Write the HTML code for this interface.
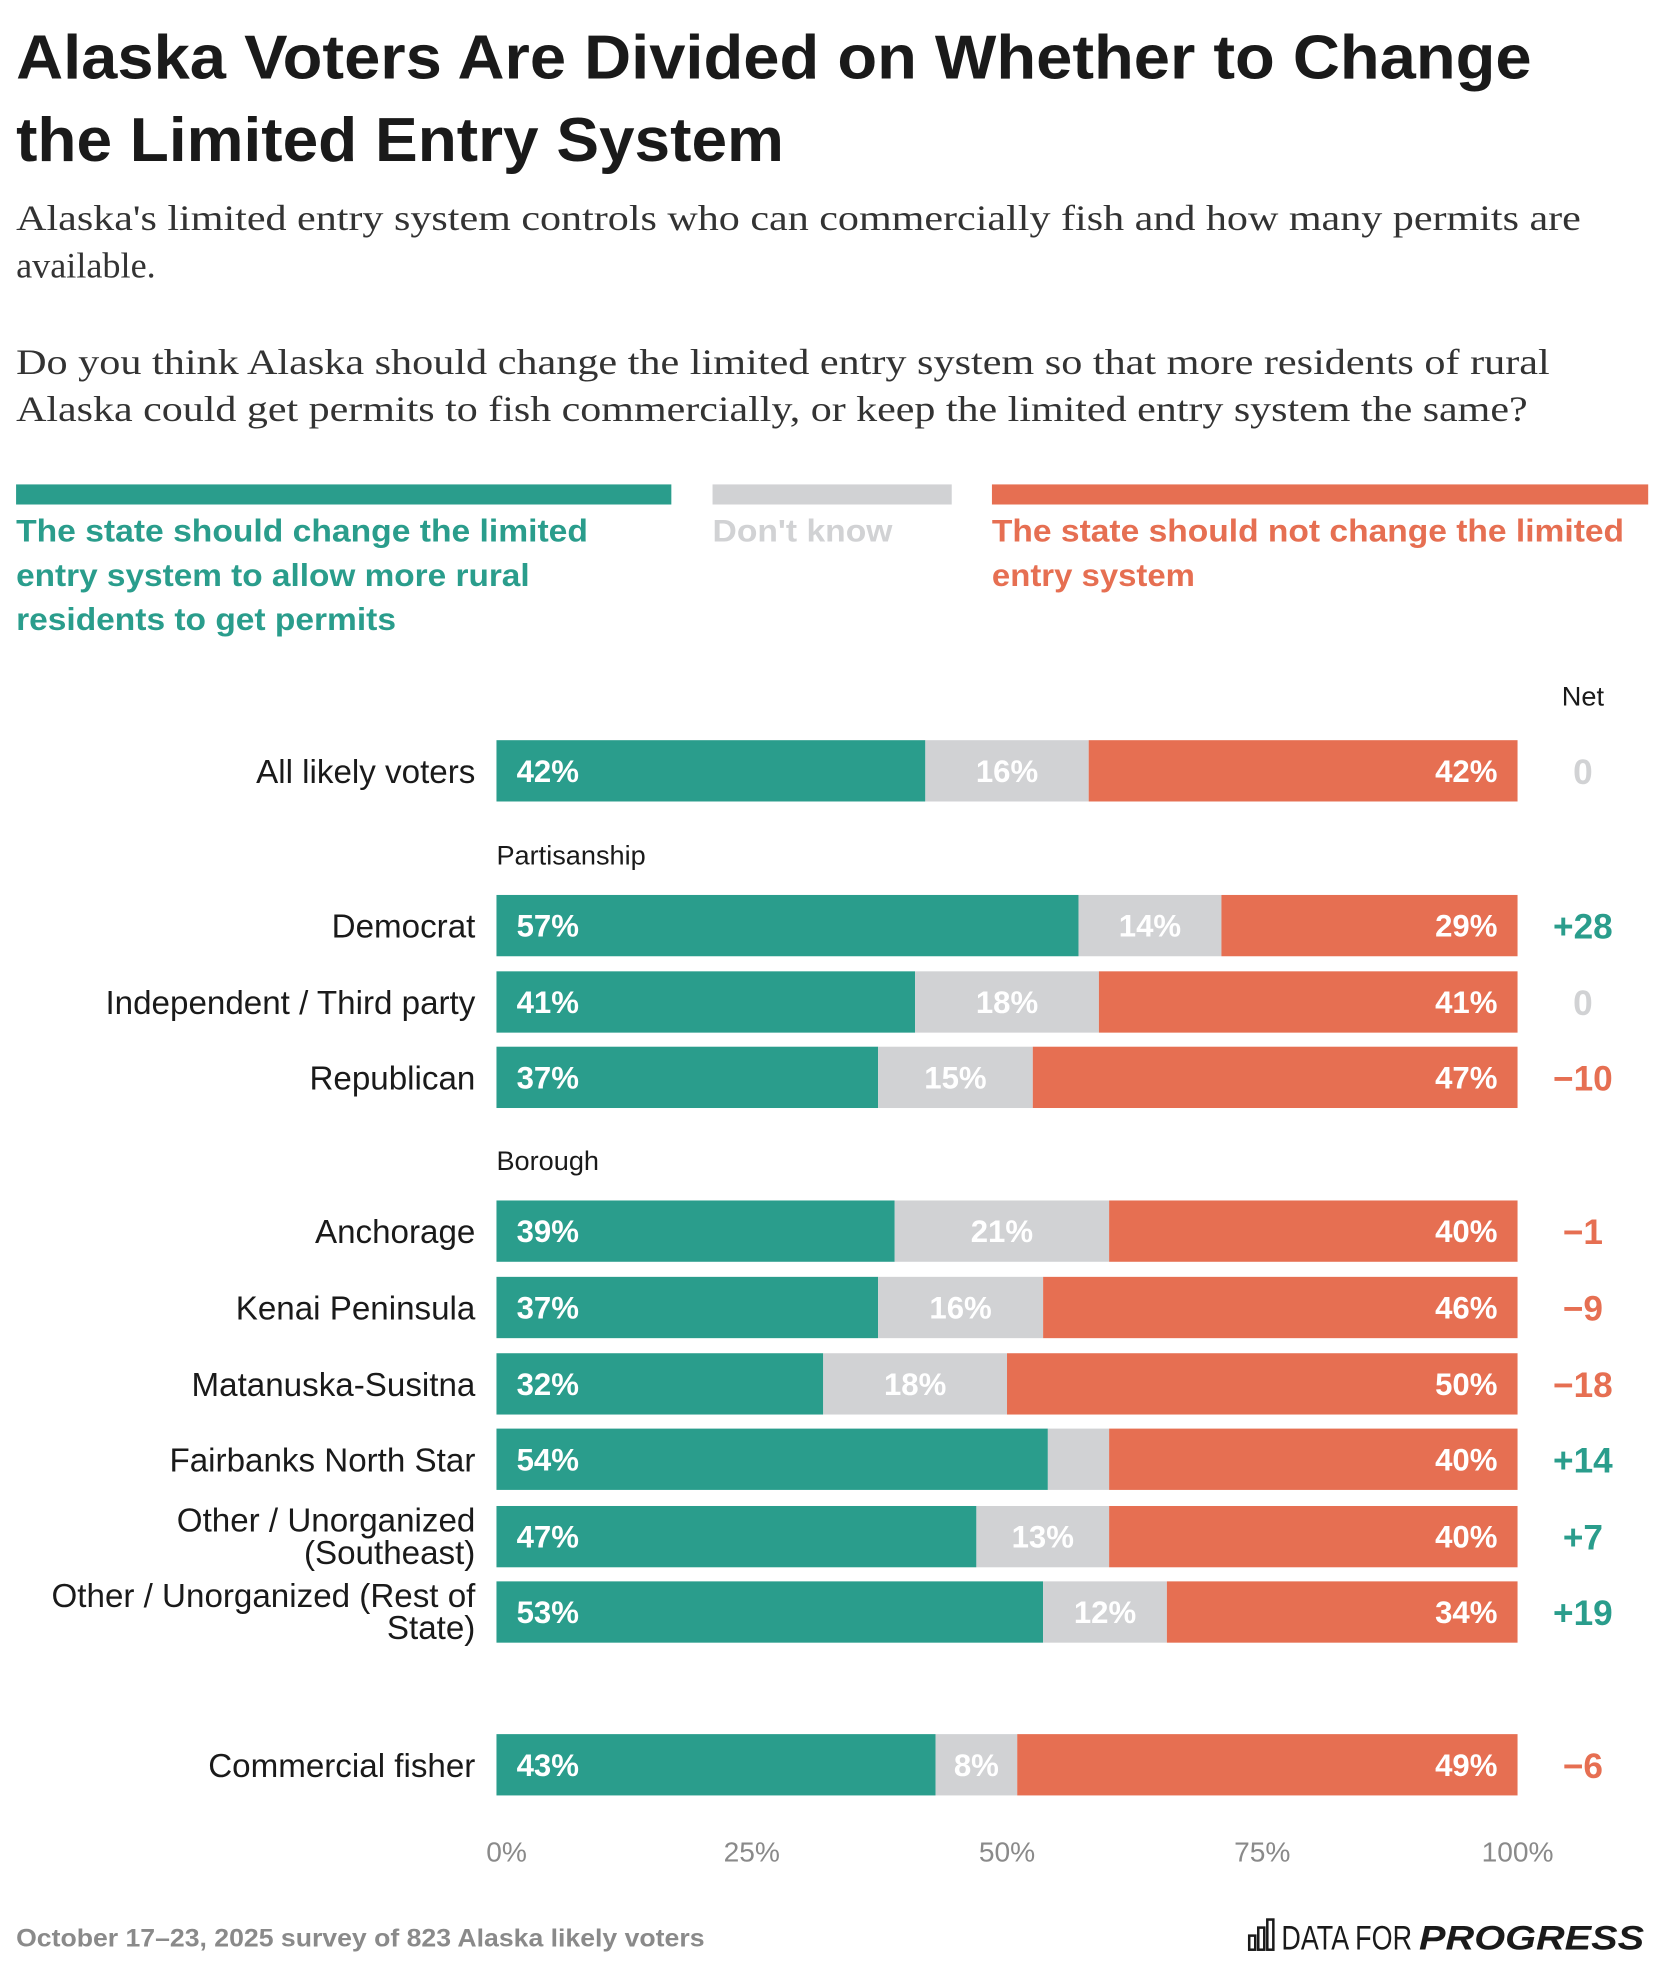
<!DOCTYPE html>
<html><head><meta charset="utf-8"><style>
body{margin:0;background:#fff}
svg{display:block}
text{font-family:"Liberation Sans",sans-serif}
.serif{font-family:"Liberation Serif",serif}
</style></head><body>
<svg id="chart" width="1664" height="1970" viewBox="0 0 1664 1970" xmlns="http://www.w3.org/2000/svg">
<g transform="scale(1.005)">
<g font-weight="bold" font-size="62" fill="#1a1a1a">
<text x="16" y="78" textLength="1508" lengthAdjust="spacingAndGlyphs">Alaska Voters Are Divided on Whether to Change</text>
<text x="16" y="160" textLength="764" lengthAdjust="spacingAndGlyphs">the Limited Entry System</text>
</g>
<g class="serif" font-size="36" fill="#333">
<text class="serif" x="16" y="229" textLength="1557" lengthAdjust="spacingAndGlyphs">Alaska's limited entry system controls who can commercially fish and how many permits are</text>
<text class="serif" x="16" y="276">available.</text>
<text class="serif" x="16" y="372" textLength="1526" lengthAdjust="spacingAndGlyphs">Do you think Alaska should change the limited entry system so that more residents of rural</text>
<text class="serif" x="16" y="419" textLength="1504" lengthAdjust="spacingAndGlyphs">Alaska could get permits to fish commercially, or keep the limited entry system the same?</text>
</g>
<g font-weight="bold" font-size="31">
<rect x="16" y="482" width="652" height="20" fill="#2a9d8c"/>
<rect x="709" y="482" width="238" height="20" fill="#d1d2d4"/>
<rect x="987" y="482" width="653" height="20" fill="#e66f52"/>
<g fill="#2a9d8c">
<text x="16" y="539" textLength="569" lengthAdjust="spacingAndGlyphs">The state should change the limited</text>
<text x="16" y="583" textLength="511" lengthAdjust="spacingAndGlyphs">entry system to allow more rural</text>
<text x="16" y="627" textLength="378" lengthAdjust="spacingAndGlyphs">residents to get permits</text></g>
<text x="709" y="539" fill="#d1d2d4" textLength="179" lengthAdjust="spacingAndGlyphs">Don't know</text>
<g fill="#e66f52">
<text x="987" y="539" textLength="629" lengthAdjust="spacingAndGlyphs">The state should not change the limited</text>
<text x="987" y="583" textLength="202" lengthAdjust="spacingAndGlyphs">entry system</text></g>
</g>
<text x="1575" y="702" text-anchor="middle" font-size="27" fill="#1a1a1a">Net</text>
<text x="494" y="860" font-size="27" fill="#1a1a1a">Partisanship</text>
<text x="494" y="1164" font-size="27" fill="#1a1a1a">Borough</text>
<g id="bars"></g>
<g id="axis"></g>
<text x="16" y="1937" font-size="25" font-weight="bold" fill="#8a8a8a" textLength="685" lengthAdjust="spacingAndGlyphs">October 17–23, 2025 survey of 823 Alaska likely voters</text>
<g>
<g fill="none" stroke="#1a1a1a" stroke-width="2.5">
<rect x="1243" y="1926" width="6" height="14"/><rect x="1252" y="1918" width="6" height="22"/><rect x="1261" y="1910" width="6" height="30"/>
</g>
<text x="1275" y="1940" font-size="34" fill="#1a1a1a" textLength="130" lengthAdjust="spacingAndGlyphs">DATA FOR</text>
<text x="1412" y="1940" font-size="34" font-weight="bold" font-style="italic" fill="#1a1a1a" textLength="224" lengthAdjust="spacingAndGlyphs">PROGRESS</text>
</g>
</g>
</svg>
<script>
const categories=["All likely voters","Democrat","Independent / Third party","Republican","Anchorage","Kenai Peninsula","Matanuska-Susitna","Fairbanks North Star","Other / Unorganized (Southeast)","Other / Unorganized (Rest of State)","Commercial fisher"];
const changeVals=[42,57,41,37,39,37,32,54,47,53,43];
const dkVals=[16,14,18,15,21,16,18,6,13,12,8];
const notVals=[42,29,41,47,40,46,50,40,40,34,49];
const netVals=[0,28,0,-10,-1,-9,-18,14,7,19,-6];
const tickVals=[0,25,50,75,100];
const tickLabels=["0%","25%","50%","75%","100%"];
const rowCenters=[767,921,997,1072,1225,1301,1377,1452,1529,1604,1756];
const X0=494,X1=1510,BH=61;
const x=v=>X0+(X1-X0)*v/100;
const ns="http://www.w3.org/2000/svg";
const g=document.getElementById('bars');
function el(t,a,txt){const e=document.createElementNS(ns,t);for(const k in a)e.setAttribute(k,a[k]);if(txt!==undefined)e.textContent=txt;return e;}
const labelLines={8:["Other / Unorganized","(Southeast)"],9:["Other / Unorganized (Rest of","State)"]};
categories.forEach((c,i)=>{
  const cy=rowCenters[i],top=cy-BH/2;
  const row=el('g',{});
  
  
  const tot=changeVals[i]+dkVals[i]+notVals[i];
  const a=changeVals[i]*100/tot,b=dkVals[i]*100/tot;
  const r1=el('rect',{x:x(0),y:top,width:x(a)-x(0),height:BH,fill:'#2a9d8c'});
  
  
  const r2=el('rect',{x:x(a),y:top,width:x(a+b)-x(a),height:BH,fill:'#d1d2d4'});
  
  
  const r3=el('rect',{x:x(a+b),y:top,width:x(100)-x(a+b),height:BH,fill:'#e66f52'});
  
  
  row.append(r1,r2,r3);
  const fs={'font-size':31,'font-weight':'bold'};
  const t1=el('text',Object.assign({x:x(0)+20,y:cy+11,fill:'#fff'},fs),changeVals[i]+'%');
  
  
  row.append(t1);
  if(dkVals[i]>=8){
    const t2=el('text',Object.assign({x:(x(a)+x(a+b))/2,y:cy+11,fill:'#fff','text-anchor':'middle'},fs),dkVals[i]+'%');
    
    
    row.append(t2);
  }
  const t3=el('text',Object.assign({x:x(100)-20,y:cy+11,fill:'#fff','text-anchor':'end'},fs),notVals[i]+'%');
  
  
  row.append(t3);
  const n=netVals[i];
  const col=n>0?'#2a9d8c':(n<0?'#e66f52':'#d1d2d4');
  const nt=el('text',{x:1575,y:cy+13,'text-anchor':'middle','font-size':35,'font-weight':'bold',fill:col},n>0?'+'+n:(n<0?'\u2212'+(-n):'0'));
  
  
  row.append(nt);
  const lines=labelLines[i]||[c];
  const lab=el('text',{'font-size':33,fill:'#1a1a1a','text-anchor':'end'});
  
  
  lines.forEach((l,k)=>{const ts=el('tspan',{x:473,y:lines.length===1?cy+12:cy-5+k*32},l);lab.append(ts);});
  row.append(lab);
  g.append(row);
});
const ax=document.getElementById('axis');
tickVals.forEach((v,i)=>{
  const t=el('text',{x:x(v)+(i===0?10:0),y:1852,'text-anchor':'middle','font-size':28,fill:'#8a8a8a'},tickLabels[i]);
  
  
  ax.append(t);
});
</script>
</body></html>
